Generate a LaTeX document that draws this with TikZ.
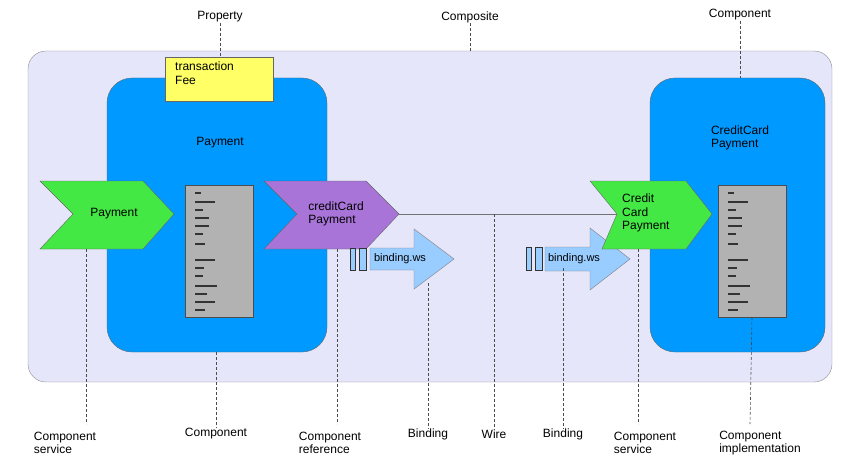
\documentclass[tikz,border=0pt]{standalone}
\usepackage{fontspec}
\setmainfont{Liberation Sans}
\begin{document}
\begin{tikzpicture}[x=1pt,y=-1pt,
  lbl/.style={font=\fontsize{12}{13.5}\selectfont,align=left,inner sep=0pt},
  leader/.style={draw=black!70,densely dashed,line width=0.6pt},
  code/.style={line width=1.2pt,black!80}]
\useasboundingbox (0,0) rectangle (850,468);
\definecolor{lav}{HTML}{E6E6FA}
\definecolor{comp}{HTML}{0099FF}
\definecolor{grn}{HTML}{44E844}
\definecolor{pur}{HTML}{A874D8}
\definecolor{bnd}{HTML}{99CCFF}
\definecolor{yel}{HTML}{FFFF66}
% composite
\draw[black!45,fill=lav,rounded corners=18pt] (28,51) rectangle (832,382);
% components
\draw[black!60,fill=comp,rounded corners=25pt] (107,78) rectangle (327,352);
\draw[black!60,fill=comp,rounded corners=25pt] (650,78) rectangle (825,352);
\node[lbl] (pay) at (220,143) {Payment};
\node[lbl] (ccp) at (740,138) {CreditCard\\Payment};
% property
\draw[black!60,fill=yel] (165,57) rectangle (273,101);
\node[lbl,anchor=north west] (fee) at (175,62) {transaction\\Fee};
% implementations
\foreach \x/\n in {185/impl1,718/impl2}{
  \draw[black!70,fill=black!30] (\x,185) rectangle ++(68,132);
  \foreach \y/\w in {8/6,17/20,25/8,33/14,41/14,49/8,59/10,75/20,83/9,91/8,101/22,109/12,117/20,125/10}
    \draw[code] (\x+10,185+\y) -- ++(\w,0);
}
\coordinate (i1b) at (219,317);
\coordinate (i2b) at (752,317);
% services and reference
\draw[black!60,fill=grn] (40,181) -- (143,181) -- (174,214) -- (143,249) -- (40,249) -- (73,214) -- cycle;
\node[lbl] (svc1) at (114,214) {Payment};
\draw[black!60,fill=pur] (264,181) -- (366,181) -- (399,214) -- (366,249) -- (264,249) -- (297,214) -- cycle;
\node[lbl] (ref) at (336,214) {creditCard\\Payment};
\coordinate (reftip) at (399,214);
% wire
\coordinate (svc2l) at (617,214);
\draw[black!55,line width=1pt] (reftip) -- (svc2l);
% bindings
\draw[black!80,fill=bnd] (350,248) rectangle (355,270);
\draw[black!80,fill=bnd] (359,248) rectangle (366,270);
\draw[black!50,fill=bnd] (370,248) -- (414,248) -- (414,229) -- (454,259) -- (414,289) -- (414,270) -- (370,270) -- cycle;
\node[lbl,font=\fontsize{11}{12}\selectfont] (b1) at (400,259) {binding.ws};
\draw[black!80,fill=bnd] (526,247) rectangle (531,270);
\draw[black!80,fill=bnd] (535,247) rectangle (542,270);
\draw[black!50,fill=bnd] (545,247) -- (590,247) -- (590,228) -- (630,259) -- (590,290) -- (590,271) -- (545,271) -- cycle;
\node[lbl,font=\fontsize{11}{12}\selectfont] (b2) at (574,259) {binding.ws};
\draw[black!60,fill=grn] (590,181) -- (686,181) -- (712,214) -- (686,249) -- (602,249) -- (617,214) -- cycle;
\node[lbl,anchor=west] (svc2) at (622,213) {Credit\\Card\\Payment};
% outer labels
\node[lbl] (tProp) at (220,17) {Property};
\node[lbl] (tComp) at (470,17) {Composite};
\node[lbl] (tCmp2) at (740,15) {Component};
\node[lbl] (l1) at (65,443) {Component\\service};
\node[lbl] (l2) at (216,434) {Component};
\node[lbl] (l3) at (330,443) {Component\\reference};
\node[lbl] (l4) at (428,434) {Binding};
\node[lbl] (l5) at (494,434) {Wire};
\node[lbl] (l6) at (563,434) {Binding};
\node[lbl] (l7) at (645,443) {Component\\service};
\node[lbl] (l8) at (760,443) {Component\\implementation};
% dashed leaders
\draw[leader] (tProp.south) -- (220,57);
\draw[leader] (tComp.south) -- (470,51);
\draw[leader] (tCmp2.south) -- (740,78);
\draw[leader] (86,249) -- (86,424);
\draw[leader] (216,352) -- (l2.north);
\draw[leader] (337,249) -- (337,424);
\draw[leader] (428,283) -- (l4.north);
\draw[leader] (494,214) -- (l5.north);
\draw[leader] (563,268) -- (l6.north);
\draw[leader] (638,249) -- (638,424);
\draw[leader] (i2b) -- (750,424);
\end{tikzpicture}
\end{document}
